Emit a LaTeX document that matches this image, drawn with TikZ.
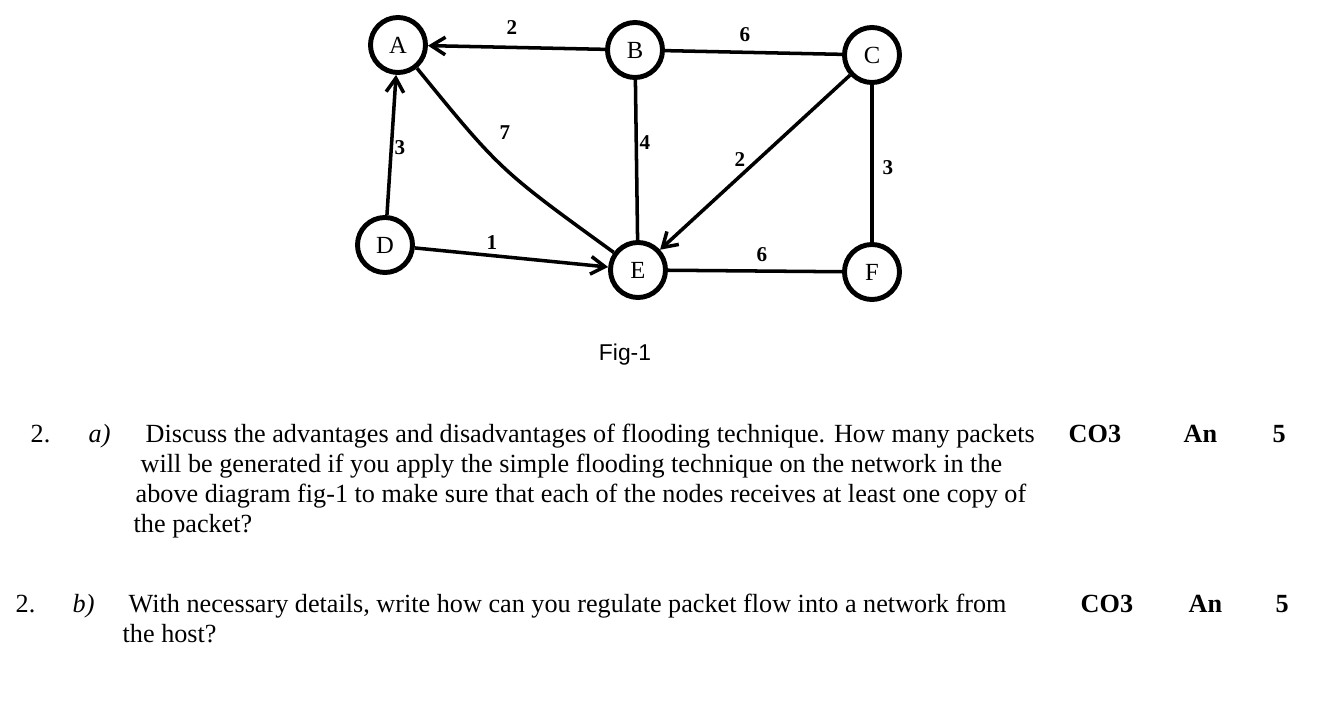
\documentclass[tikz,border=0pt]{standalone}
\usepackage{fontspec}
\setmainfont{Liberation Serif}
\newfontfamily\figfont{Liberation Sans}
\usetikzlibrary{arrows.meta}
\begin{document}
\begin{tikzpicture}[x=0.01cm,y=-0.01cm,
  vert/.style={draw,line width=1.4pt,circle,minimum size=0.55cm,inner sep=0pt,font=\fontsize{7}{8}\selectfont},
  edge/.style={line width=1pt},
  arr/.style={line width=1pt,-{Straight Barb[length=4pt,width=5pt]}},
  wt/.style={font=\fontsize{6}{7}\selectfont\bfseries},
  qtext/.style={anchor=base west,inner sep=0pt,font=\fontsize{7.45}{8}\selectfont}]
\useasboundingbox (0,0) rectangle (1320,716);
\node[vert] (A) at (398,45) {A};
\node[vert] (B) at (635,50) {B};
\node[vert] (C) at (872,55) {C};
\node[vert] (D) at (385,245) {D};
\node[vert] (E) at (638,270) {E};
\node[vert] (F) at (872,272) {F};
\draw[arr] (B) -- (A);
\draw[edge] (B) -- (C);
\draw[arr] (D) -- (A);
\draw[edge] (A) .. controls (500,170) .. (E);
\draw[edge] (B) -- (E);
\draw[arr] (C) -- (E);
\draw[edge] (C) -- (F);
\draw[arr] (D) -- (E);
\draw[edge] (E) -- (F);
\node[wt] (w1) at (512,28) {2};
\node[wt] (w2) at (745,35) {6};
\node[wt] (w3) at (400,148) {3};
\node[wt] (w4) at (505,133) {7};
\node[wt] (w5) at (645,143) {4};
\node[wt] (w6) at (740,160) {2};
\node[wt] (w7) at (888,168) {3};
\node[wt] (w8) at (492,243) {1};
\node[wt] (w9) at (762,255) {6};
\node[font=\figfont\fontsize{6.5}{8}\selectfont] (fig) at (625,355) {Fig-1};
\node[qtext] (q1) at (30,443) {2.};
\node[qtext] (q2) at (88,443) {\itshape a)};
\node[qtext] (l1) at (145,443) {Discuss the advantages and disadvantages of flooding technique. How many packets};
\node[qtext] (l2) at (140,473) {will be generated if you apply the simple flooding technique on the network in the};
\node[qtext] (l3) at (135,503) {above diagram fig-1 to make sure that each of the nodes receives at least one copy of};
\node[qtext] (l4) at (133,533) {the packet?};
\node[qtext,font=\fontsize{7.45}{8}\selectfont\bfseries] (c1) at (1068,443) {CO3};
\node[qtext,font=\fontsize{7.45}{8}\selectfont\bfseries] (c2) at (1183,443) {An};
\node[qtext,font=\fontsize{7.45}{8}\selectfont\bfseries] (c3) at (1272,443) {5};
\node[qtext] (q3) at (15,613) {2.};
\node[qtext] (q4) at (72,613) {\itshape b)};
\node[qtext] (l5) at (128,613) {With necessary details, write how can you regulate packet flow into a network from};
\node[qtext] (l6) at (122,643) {the host?};
\node[qtext,font=\fontsize{7.45}{8}\selectfont\bfseries] (c4) at (1080,613) {CO3};
\node[qtext,font=\fontsize{7.45}{8}\selectfont\bfseries] (c5) at (1188,613) {An};
\node[qtext,font=\fontsize{7.45}{8}\selectfont\bfseries] (c6) at (1275,613) {5};
\end{tikzpicture}
\end{document}
